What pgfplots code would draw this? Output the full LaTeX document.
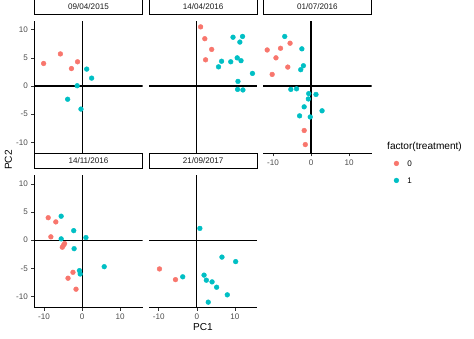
\documentclass[border=0pt]{standalone}
\usepackage{fontspec}
\setmainfont{Liberation Sans}
\usepackage{pgfplots}
\pgfplotsset{compat=1.18}
\definecolor{c0}{HTML}{F8766D}
\definecolor{c1}{HTML}{00BFC4}
\definecolor{g20}{HTML}{333333}
\definecolor{g30}{HTML}{4D4D4D}
\definecolor{g10}{HTML}{1A1A1A}
\pgfplotsset{
  panel/.style={
    scale only axis, width=108.4pt, height=132.5pt,
    xmin=-12.55, xmax=15.9, ymin=-11.95, ymax=11.58,
    xtick={-10,0,10}, ytick={-10,-5,0,5,10},
    xticklabels={-10,0,10}, yticklabels={-10,-5,0,5,10},
    tick align=outside, major tick length=3pt,
    tick style={g20, line width=0.55pt},
    every tick label/.append style={font=\fontsize{8.1}{9}\selectfont, text=g30},
    axis line style={-, black, line width=0.6pt},
    anchor=south west,
    title style={at={(0.5,1)}, anchor=south, draw=black, line width=0.55pt, fill=white,
      minimum width=108.4pt, minimum height=15.3pt, inner sep=0pt, text=g10,
      font=\fontsize{8.1}{9}\selectfont},
  },
  refl/.style={black, line width=1.1pt, forget plot},
  p0/.style={only marks, mark=*, mark size=2.4pt, color=c0, mark options={draw=none, fill=c0}},
  p1/.style={only marks, mark=*, mark size=2.4pt, color=c1, mark options={draw=none, fill=c1}},
}
\begin{document}
\begin{tikzpicture}[x=1pt,y=1pt]
\useasboundingbox (0,0) rectangle (474,338);
% Panel 1
\begin{axis}[panel, at={(34.3pt,184.7pt)}, title={09/04/2015}, hide x axis, axis y line*=left]
\addplot[refl] coordinates {(-12.55,0) (15.9,0)};
\addplot[refl] coordinates {(0,-11.95) (0,11.58)};
\addplot[p0] coordinates {(-10.1,4.0) (-5.7,5.7) (-2.8,3.1) (-1.2,4.3)};
\addplot[p1] coordinates {(1.2,3.0) (2.5,1.4) (-1.3,0.05) (-3.8,-2.35) (-0.3,-4.1)};
\end{axis}
% Panel 2
\begin{axis}[panel, at={(149.0pt,184.7pt)}, title={14/04/2016}, hide x axis, hide y axis]
\addplot[refl] coordinates {(-12.55,0) (15.9,0)};
\addplot[refl] coordinates {(0,-11.95) (0,11.58)};
\addplot[p0] coordinates {(1.0,10.5) (2.1,8.4) (3.9,6.5) (2.3,4.65)};
\addplot[p1] coordinates {(9.5,8.66) (12.0,8.8) (11.3,7.8) (6.5,4.4) (8.9,4.3) (10.6,5.0) (11.6,4.5) (5.7,3.4) (14.6,2.24) (10.8,0.82) (10.7,-0.6) (12.1,-0.7)};
\end{axis}
% Panel 3
\begin{axis}[panel, at={(263.2pt,184.7pt)}, title={01/07/2016}, hide y axis, axis x line*=bottom,
  legend style={draw=none, fill=none, inner sep=0pt, at={(1.205,-0.041)}, anchor=north west,
    font=\fontsize{8.1}{9}\selectfont, row sep=8pt, column sep=7pt,
    nodes={inner sep=1.5pt, text height=6pt, text depth=0pt}},
  legend cell align=left,
  legend image code/.code={\draw[mark repeat=2,mark phase=2,#1] plot coordinates {(0pt,0pt)(4pt,0pt)(8pt,0pt)};}]
\addplot[refl] coordinates {(-12.55,0) (15.9,0)};
\addplot[refl] coordinates {(0,-11.95) (0,11.58)};
\addplot[p0] coordinates {(-11.5,6.4) (-8.0,6.7) (-5.5,7.6) (-9.2,5.0) (-6.1,3.36) (-10.2,2.06) (-1.8,-7.9) (-1.5,-10.4)};
\addlegendentry{0}
\addplot[p1] coordinates {(-6.9,8.8) (-2.4,6.6) (-2.0,3.6) (-2.7,2.9) (-5.3,-0.6) (-3.8,-0.5) (-0.6,-1.35) (1.3,-1.5) (-0.7,-2.3) (-1.8,-3.7) (2.9,-4.4) (-3.0,-5.3) (-0.2,-5.5)};
\addlegendentry{1}
\end{axis}
% Panel 4
\begin{axis}[panel, at={(34.3pt,30.5pt)}, title={14/11/2016}, axis x line*=bottom, axis y line*=left]
\addplot[refl] coordinates {(-12.55,0) (15.9,0)};
\addplot[refl] coordinates {(0,-11.95) (0,11.58)};
\addplot[p0] coordinates {(-8.9,4.0) (-6.9,3.25) (-8.2,0.6) (-4.6,-0.6) (-4.9,-0.9) (-5.2,-1.24) (-2.4,-5.7) (-3.7,-6.75) (-1.6,-8.7)};
\addplot[p1] coordinates {(-5.5,4.26) (-2.2,1.7) (-5.5,0.24) (1.0,0.47) (-2.1,-1.5) (5.8,-4.7) (-0.7,-5.4) (-0.5,-6.0)};
\end{axis}
% Panel 5
\begin{axis}[panel, at={(149.0pt,30.5pt)}, title={21/09/2017}, axis x line*=bottom, hide y axis]
\addplot[refl] coordinates {(-12.55,0) (15.9,0)};
\addplot[refl] coordinates {(0,-11.95) (0,11.58)};
\addplot[p0] coordinates {(-9.8,-5.1) (-5.6,-7.0)};
\addplot[p1] coordinates {(0.8,2.1) (6.6,-3.0) (10.2,-3.8) (-3.7,-6.5) (1.9,-6.2) (2.5,-7.1) (4.0,-7.4) (5.2,-8.35) (8.0,-9.7) (3.0,-11.0)};
\end{axis}
\node[font=\fontsize{10.1}{12}\selectfont] at (202.9,11.3) {PC1};
\node[font=\fontsize{10.1}{12}\selectfont, rotate=90] at (8.5,178) {PC2};
\node[font=\fontsize{10.1}{12}\selectfont, anchor=west, inner sep=0pt] at (387,191) {factor(treatment)};
\end{tikzpicture}
\end{document}
